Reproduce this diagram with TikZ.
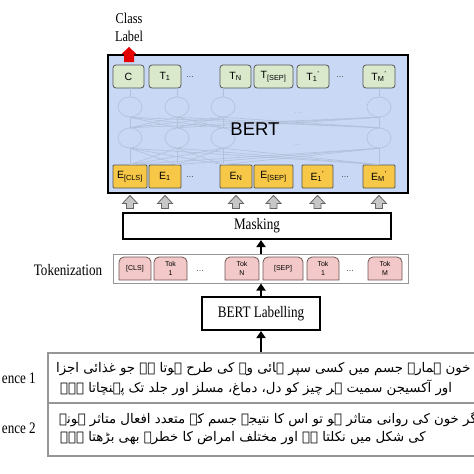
\documentclass[tikz,border=0pt]{standalone}
\usepackage{fontspec}
\setmainfont[FakeStretch=0.82]{Liberation Serif}
\setsansfont{Liberation Sans}
\newfontfamily\urdufont[Script=Arabic]{DejaVu Sans}
\TeXXeTstate=1
\usetikzlibrary{shapes.geometric,arrows.meta}
\definecolor{bertblue}{RGB}{200,216,245}
\definecolor{tgreen}{RGB}{218,233,204}
\definecolor{eorange}{RGB}{247,200,72}
\definecolor{tokpink}{RGB}{242,200,200}
\definecolor{tokedge}{RGB}{110,85,85}
\definecolor{netline}{RGB}{178,192,218}
\definecolor{boxedge}{RGB}{85,85,85}
\definecolor{framegray}{RGB}{150,150,150}
\tikzset{every node/.style={inner sep=0pt}}

\begin{document}
\begin{tikzpicture}[x=1pt,y=-1pt,
    tbox/.style={draw=boxedge,fill=tgreen,rounded corners=3pt,line width=0.8pt,
      minimum height=23pt,minimum width=#1pt,font=\sffamily\fontsize{10.5}{12}\selectfont},
    ebox/.style={tbox=#1,fill=eorange,rounded corners=1pt},
    tok/.style={font=\sffamily\fontsize{7}{8.5}\selectfont,align=center},
    tabshape/.style={draw=tokedge,fill=tokpink,line width=0.8pt},
    neuron/.style={ellipse,draw=netline,line width=0.6pt,minimum width=24pt,minimum height=20pt},
    net/.style={draw=netline,line width=0.6pt},
    plainbox/.style={draw,line width=2pt,fill=white,font=\fontsize{16}{18}\selectfont},
    conn/.style={-{Triangle[length=7pt,width=9pt]},line width=2pt},
    dots/.style={text=black!70,font=\sffamily\fontsize{9}{10}\selectfont},
    urdu/.style={anchor=west,font=\urdufont\fontsize{13.3}{15}\selectfont},
    pics/grayup/.style={code={\draw[fill=black!22,draw=black!60,line width=0.8pt]
      (-3.5,0) -- (-3.5,-5) -- (-7.5,-5) -- (0,-13) -- (7.5,-5) -- (3.5,-5) -- (3.5,0) -- cycle;}},
    pics/redup/.style={code={\fill[red!90!black]
      (-5,0) -- (-5,-8) -- (-7.5,-8) -- (0,-15) -- (7.5,-8) -- (5,-8) -- (5,0) -- cycle;}}
  ]
  \useasboundingbox (0,0) rectangle (474,474);
  \clip (0,0) rectangle (474,474);

  % BERT block
  \node[draw,line width=1.5pt,fill=bertblue,minimum width=300pt,minimum height=138pt] (bert) at (258,124) {};
  \node[tbox=31] (tC) at (128.5,76.5) {C};
  \node[tbox=32] (t1) at (165,76.5) {T\textsubscript{1}};
  \node[tbox=31] (tN) at (235.5,76.5) {T\textsubscript{N}};
  \node[tbox=39] (tsep) at (273.5,76.5) {T\textsubscript{[SEP]}};
  \node[tbox=32] (t1p) at (313,76.5) {T\textsubscript{1}\textsuperscript{'}};
  \node[tbox=32] (tMp) at (379,76.5) {T\textsubscript{M}\textsuperscript{'}};
  \node[ebox=34] (ecls) at (130,176.5) {E\textsubscript{[CLS]}};
  \node[ebox=32] (e1) at (165,176.5) {E\textsubscript{1}};
  \node[ebox=32] (eN) at (236,176.5) {E\textsubscript{N}};
  \node[ebox=39] (esep) at (273.5,176.5) {E\textsubscript{[SEP]}};
  \node[ebox=31] (e1p) at (317.5,176.5) {E\textsubscript{1}\textsuperscript{'}};
  \node[ebox=32] (eMp) at (379,176.5) {E\textsubscript{M}\textsuperscript{'}};
  \node[dots] (tdots1) at (190,77) {...};
  \node[dots] (tdots2) at (340,77) {...};
  \node[dots] (edots1) at (190,177) {...};
  \node[dots] (edots2) at (345,177) {...};

  % hidden layers
  \foreach \i/\x in {1/130,2/177,3/223,4/379} {
    \node[neuron] (ha\i) at (\x,107) {};
    \node[neuron] (hb\i) at (\x,138) {};
  }
  \foreach \i in {1,...,4} {
    \draw[net] (ha\i.north) -- (ha\i.north |- tC.south);
    \draw[net] (hb\i.south) -- (hb\i.south |- ecls.north);
    \foreach \j in {1,...,4} {
      \draw[net] (ha\i.south) -- (hb\j.north);
      \draw[net] (hb\i.south) -- (hb\j.south |- ecls.north);
    }
  }
  \node[dots,text=netline] (hdots1) at (298,113) {...};
  \node[dots,text=netline] (hdots2) at (297,145) {...};
  \node[font=\sffamily\fontsize{18.5}{20}\selectfont] (berttxt) at (255,129) {BERT};

  \pic at (129,62) {redup};
  \node[align=center,font=\fontsize{15}{18}\selectfont] (classlbl) at (129,27) {Class\\Label};
  \foreach \n in {ecls,e1,eN,esep,e1p,eMp}
    \pic at ([yshift=-20pt]\n.south) {grayup};

  % masking and tokens
  \node[plainbox,minimum width=268pt,minimum height=26pt] (masking) at (257,226) {Masking};
  \node[draw=framegray,line width=1pt,minimum width=295pt,minimum height=29pt] (tokbox) at (260.5,268.5) {};
  \node[font=\fontsize{16}{18}\selectfont] (toklabel) at (68,270) {Tokenization};
  \foreach \x/\w/\txt/\nm in {135/32/{[CLS]}/kcls,170.5/33/{Tok\\1}/k1,242/34/{Tok\\N}/kN,
      283/40/{[SEP]}/ksep,323/32/{Tok\\1}/k1p,385/34/{Tok\\M}/kM} {
    \draw[tabshape] (\x-\w/2,280) [rounded corners=5pt] -- (\x-\w/2,257) -- (\x+\w/2,257)
      [sharp corners] -- (\x+\w/2,280) -- cycle;
    \node[tok] (\nm) at (\x,268.5) {\txt};
  }
  \node[dots] (kdots1) at (200,271) {...};
  \node[dots] (kdots2) at (350,271) {...};

  \node[plainbox,minimum width=118pt,minimum height=33pt] (labelling) at (261,313.5) {BERT Labelling};

  % sentences
  \node[draw=framegray,line width=1.2pt,minimum width=492pt,minimum height=103pt] (sents) at (294,404.5) {};
  \draw[framegray,line width=1.2pt] (sents.west |- 0,403) -- (sents.east |- 0,403);
  \node[anchor=east,font=\fontsize{16}{18}\selectfont] (lab1) at (36,378) {ence 1};
  \node[anchor=east,font=\fontsize{16}{18}\selectfont] (lab2) at (36,428) {ence 2};
  \node[urdu] (s1a) at (56,369) {\beginR خون ہمارے جسم میں کسی سپر ہائی وے کی طرح ہوتا ہے جو غذائی اجزا\endR};
  \node[urdu] (s1b) at (60,388) {\beginR اور آکسیجن سمیت ہر چیز کو دل، دماغ، مسلز اور جلد تک پہنچاتا ہے۔\endR};
  \node[urdu] (s2a) at (59,419) {\beginR اگر خون کی روانی متاثر ہو تو اس کا نتیجہ جسم کے متعدد افعال متاثر ہونے\endR};
  \node[urdu] (s2b) at (60,438) {\beginR کی شکل میں نکلتا ہے اور مختلف امراض کا خطرہ بھی بڑھتا ہے۔\endR};

  % connectors
  \draw[conn] (labelling.north) -- (labelling.north |- tokbox.south);
  \draw[conn] (labelling.north |- tokbox.north) -- (labelling.north |- masking.south);
  \draw[conn] (labelling.south |- sents.north) -- (labelling.south);
\end{tikzpicture}
\end{document}
